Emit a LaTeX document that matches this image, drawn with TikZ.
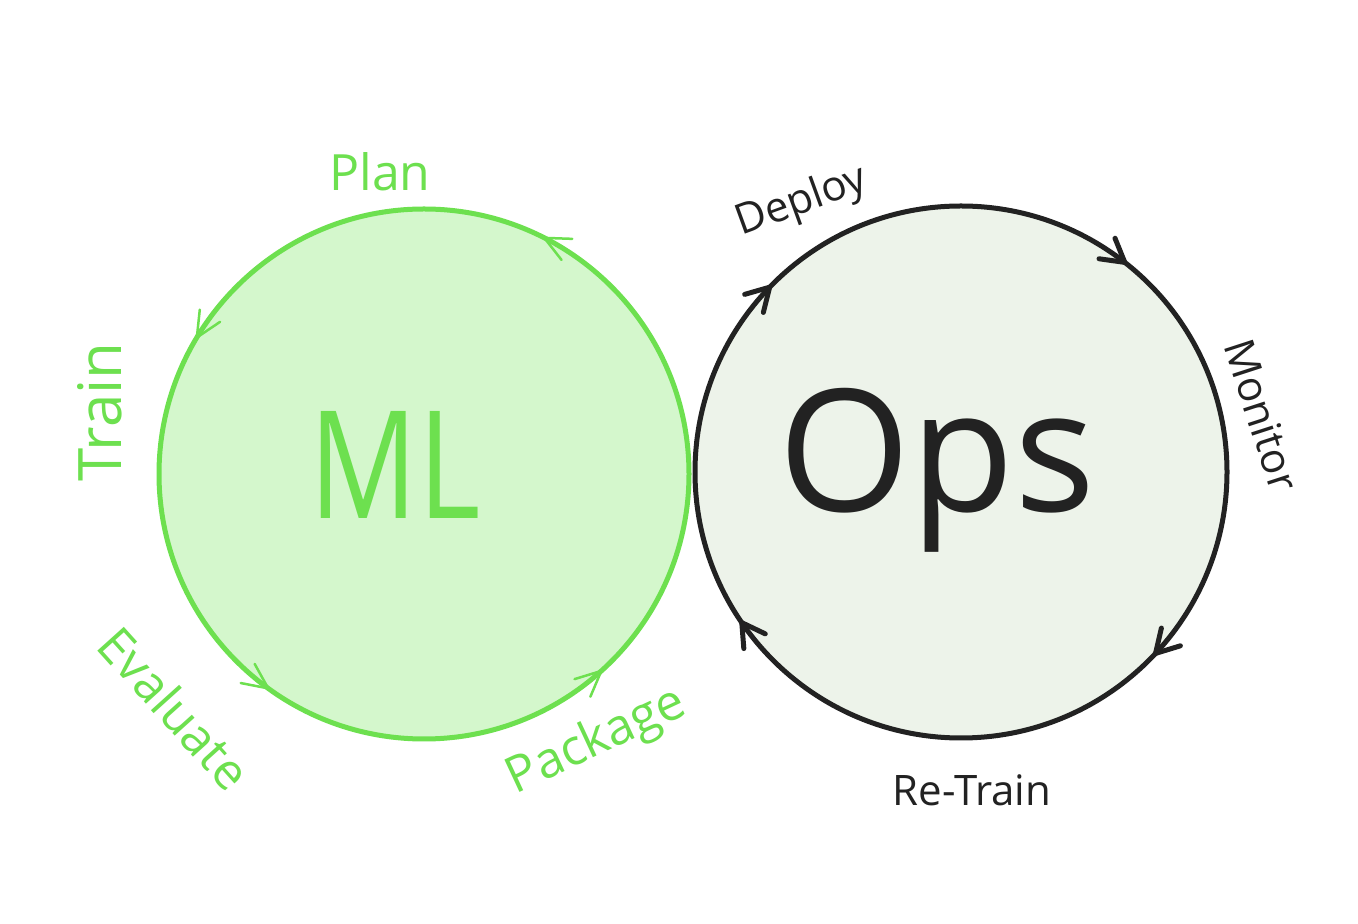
\documentclass[tikz,border=0pt]{standalone}
\usepackage{fontspec}
\setmainfont{Open Sans}
\definecolor{gstroke}{HTML}{6DE04F}
\definecolor{gfill}{HTML}{D4F7CC}
\definecolor{bfill}{HTML}{EDF3EA}
\definecolor{bstroke}{HTML}{222222}
\begin{document}
\begin{tikzpicture}[x=1pt,y=1pt,
  gl/.style={font=\fontsize{50}{54}\selectfont,text=gstroke},
  bl/.style={font=\fontsize{42}{46}\selectfont,text=bstroke},
  gchev/.style={gstroke,line width=2.5pt,line cap=round,line join=round},
  bchev/.style={bstroke,line width=5pt,line cap=round,line join=round}]
\useasboundingbox (0,0) rectangle (1358,924);
\fill[white] (0,0) rectangle (1358,924);
\coordinate (gc) at (424,450);
\coordinate (bc) at (961,452);
\draw[gstroke,line width=5pt,fill=gfill] (gc) circle[radius=265];
\draw[bstroke,line width=5pt,fill=bfill] (bc) circle[radius=266];
\foreach \a in {63,149,234,312}{
  \draw[gchev] ([shift={(\a:265)}]gc) ++(\a-65:28) -- ([shift={(\a:265)}]gc) -- ++(\a-115:28);
}
\foreach \a in {52,136,214.5,317}{
  \draw[bchev] ([shift={(\a:266)}]bc) ++(\a+60:26) -- ([shift={(\a:266)}]bc) -- ++(\a+120:26);
}
\node[gl] (plan) at (380,752) {Plan};
\node[gl,rotate=90,font=\fontsize{60}{64}\selectfont] (train) at (100,512) {Train};
\node[gl,rotate=-48] (eval) at (175,216) {Evaluate};
\node[gl,rotate=25] (pack) at (597,182) {Package};
\node[text=gstroke,font=\fontsize{150}{160}\selectfont\addfontfeature{FakeStretch=0.8}] (ml) at (395,459) {ML};
\node[bl,rotate=20] (deploy) at (802,722) {Deploy};
\node[bl,rotate=-72] (mon) at (1262,509) {Monitor};
\node[bl] (retrain) at (972,134) {Re-Train};
\node[text=bstroke,font=\fontsize{170}{180}\selectfont] (ops) at (937,454) {Ops};
\end{tikzpicture}
\end{document}
